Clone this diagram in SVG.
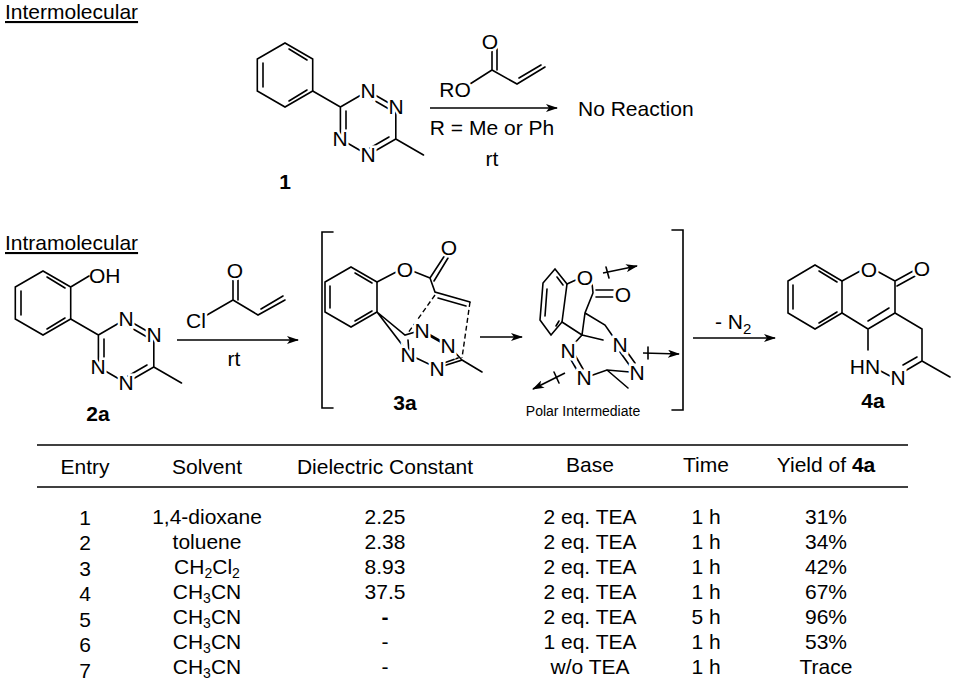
<svg xmlns="http://www.w3.org/2000/svg" width="955" height="684" viewBox="0 0 955 684">
<defs>
<style>
text{font-family:"Liberation Sans",Arial,sans-serif;fill:#000}
.b{stroke:#000;stroke-width:1.6;fill:none;stroke-linecap:round}
.d{stroke:#000;stroke-width:1.4;fill:none;stroke-dasharray:5,3}
.a{font-size:21px;text-anchor:middle;paint-order:stroke;stroke:#fff;stroke-width:5px}
.l{font-size:21px}
.bold{font-size:21px;font-weight:bold;text-anchor:middle}
.t{font-size:21px;text-anchor:middle}
.ar{stroke:#000;stroke-width:1.6;fill:none;marker-end:url(#ah)}
</style>
<marker id="ah" viewBox="0 0 12 8" refX="11" refY="4" markerWidth="12" markerHeight="8" markerUnits="userSpaceOnUse" orient="auto"><path d="M0,0 L12,4 L0,8 L3,4 Z" fill="#000"/></marker>
</defs>
<rect width="955" height="684" fill="#fff"/>

<g id="titles">
<text x="5" y="19" class="l" text-decoration="underline">Intermolecular</text>
<text x="5" y="250" class="l" text-decoration="underline">Intramolecular</text>
</g>

<g id="cmpd1" transform="translate(285,75)">
<path class="b" d="M0,-32 L27.7,-16 L27.7,16 L0,32 L-27.7,16 L-27.7,-16 Z M-22,-12 L-22,12 M4,-26 L22,-15 M4,26 L22,15"/>
<path class="b" d="M27.7,16 L55.4,32 M55.4,32 L83,16 L110.8,32 L110.8,64 L83,80 L55.4,64 Z M61,36 L61,60 M85,23 L104,34 M85,73 L104,62 M110.8,64 L138.5,80"/>
<text class="a" x="83" y="23">N</text><text class="a" x="111" y="39">N</text>
<text class="a" x="55" y="71">N</text><text class="a" x="83" y="87">N</text>
<text class="bold" x="0" y="114">1</text>
</g>

<g id="cond1">
<path class="b" d="M470,84 L492,70 L492,48 M497,70 L497,48 M492,70 L517,84 L545,67 M519,78 L541,65"/>
<text class="a" x="455" y="97">RO</text>
<text class="a" x="490" y="49">O</text>
<text class="l" x="492" y="135" text-anchor="middle">R = Me or Ph</text>
<text class="l" x="492" y="166" text-anchor="middle">rt</text>
<text class="l" x="578" y="116">No Reaction</text>
</g>

<g id="cmpd2a" transform="translate(43,303)">
<path class="b" d="M0,-32 L27.7,-16 L27.7,16 L0,32 L-27.7,16 L-27.7,-16 Z M-22,-12 L-22,12 M4,-26 L22,-15 M4,26 L22,15 M27.7,-16 L46,-27"/>
<text class="l" x="46" y="-20">OH</text>
<path class="b" d="M27.7,16 L55.4,32 M55.4,32 L83,16 L110.8,32 L110.8,64 L83,80 L55.4,64 Z M61,36 L61,60 M85,23 L104,34 M85,73 L104,62 M110.8,64 L138.5,80"/>
<text class="a" x="83" y="23">N</text><text class="a" x="111" y="39">N</text>
<text class="a" x="55" y="71">N</text><text class="a" x="83" y="87">N</text>
<text class="bold" x="55" y="118">2a</text>
</g>

<g id="reagent2">
<path class="b" d="M207,315 L233,300 L233,277 M238,300 L238,277 M233,300 L258,315 L285,300 M261,309 L283,296"/>
<text class="a" x="235" y="278">O</text>
<text class="a" x="196" y="328">Cl</text>
<text class="l" x="234" y="366" text-anchor="middle">rt</text>
</g>

<g id="bracket">
<path class="b" d="M333,232 L322,232 L322,408 L333,408 M672,230 L683,230 L683,410 L672,410" stroke-linecap="butt"/>
</g>

<g id="cmpd3a">
<path class="b" d="M351,267 L377,282 L377,312 L351,327 L325,312 L325,282 Z M330,286 L330,308 M355,273 L372,283 M355,321 L372,311"/>
<path class="b" d="M377,282 L400,270 M410,270 L430,278 L445,255 M434,281 L448,258 M430,278 L435,292 L470,302 M438,298 L466,306"/>
<text class="a" x="405" y="277">O</text>
<text class="a" x="449" y="255">O</text>
<path class="d" d="M435,295 L408,333 M470,302 L462,358"/>
<path class="b" d="M377,312 L405,335 L422,330 L448,345 L462,360 L437,368 L410,355 Z M408,340 L409,352 M428,335 L444,344 M441,364 L458,358 M462,360 L482,372"/>
<text class="a" x="422" y="338">N</text><text class="a" x="448" y="353">N</text>
<text class="a" x="408" y="362">N</text><text class="a" x="437" y="376">N</text>
<text class="bold" x="405" y="410">3a</text>
</g>

<g id="polar">
<path class="b" d="M555,269 L567,284 L562,322 L551,335 L540,320 L543,283 Z M547,289 L545,316 M557,277 L563,285 M556,326 L559,321"/>
<path class="b" d="M567,284 L578,279 M592,283 L593,293 M596,290 L613,290 M596,297 L613,297 M593,293 L585,313 L582,335 M585,313 L605,325 L614,338 M582,335 L562,322 M582,335 L603,340 M582,335 L572,346 M620,352 L630,366 M625,349 L635,363 M630,372 L607,370 L590,376 M578,372 L570,358 M583,369 L575,355 M607,370 L628,388"/>
<text class="a" x="585" y="285">O</text>
<text class="a" x="623" y="302">O</text>
<text class="a" x="568" y="358">N</text>
<text class="a" x="584" y="385">N</text>
<text class="a" x="620" y="352">N</text>
<text class="a" x="637" y="380">N</text>
<path class="ar" d="M603,273 L637,266"/><path class="b" d="M606,267 L609,278"/>
<path class="ar" d="M643,353 L679,354"/><path class="b" d="M648,347 L648,359"/>
<path class="ar" d="M565,373 L533,389"/><path class="b" d="M554,372 L559,383"/>
<text x="583" y="416" font-size="14" text-anchor="middle">Polar Intermediate</text>
</g>

<g id="cmpd4a">
<path class="b" d="M815,265 L842,281 L842,313 L815,329 L788,313 L788,281 Z M793,285 L793,309 M819,271 L837,282 M819,323 L837,312"/>
<path class="b" d="M842,281 L862,270 M875,270 L895,281 L895,313 L868,329 L842,313 M889,308 L868,321 M895,281 L915,270 M897,286 L917,275 M895,313 L922,329 L922,361 L905,371 M890,376 L875,368 M868,350 L868,329 M922,361 L950,377 M917,357 L903,365"/>
<text class="a" x="869" y="277">O</text>
<text class="a" x="922" y="276">O</text>
<text class="a" x="865" y="374">HN</text>
<text class="a" x="898" y="385">N</text>
<text class="bold" x="873" y="408">4a</text>
</g>

<g id="connectors">
<path class="ar" d="M430,108 L557,108"/>
<path class="ar" d="M177,340 L298,340"/>
<path class="ar" d="M480,337 L522,337"/>
<path class="ar" d="M693,338 L775,338"/>
<text class="l" x="715" y="329">- N<tspan font-size="15" dy="5">2</tspan></text>
</g>

<g id="table">
<path d="M37,445 L908,445" stroke="#000" stroke-width="1.6"/>
<path d="M37,487 L908,487" stroke="#000" stroke-width="1.6"/>
<g class="t">
<text x="85" y="474">Entry</text><text x="207" y="474">Solvent</text><text x="385" y="474">Dielectric Constant</text><text x="590" y="472">Base</text><text x="706" y="472">Time</text><text x="826" y="472">Yield of <tspan font-weight="bold">4a</tspan></text>
<text x="85" y="525">1</text><text x="207" y="524">1,4-dioxane</text><text x="385" y="524">2.25</text><text x="590" y="524">2 eq. TEA</text><text x="706" y="524">1 h</text><text x="826" y="524">31%</text>
<text x="85" y="550">2</text><text x="207" y="549">toluene</text><text x="385" y="549">2.38</text><text x="590" y="549">2 eq. TEA</text><text x="706" y="549">1 h</text><text x="826" y="549">34%</text>
<text x="85" y="576">3</text><text x="207" y="574">CH<tspan font-size="14" dy="4">2</tspan><tspan dy="-4">Cl</tspan><tspan font-size="14" dy="4">2</tspan></text><text x="385" y="574">8.93</text><text x="590" y="574">2 eq. TEA</text><text x="706" y="574">1 h</text><text x="826" y="574">42%</text>
<text x="85" y="601">4</text><text x="207" y="599">CH<tspan font-size="14" dy="4">3</tspan><tspan dy="-4">CN</tspan></text><text x="385" y="599">37.5</text><text x="590" y="599">2 eq. TEA</text><text x="706" y="599">1 h</text><text x="826" y="599">67%</text>
<text x="85" y="627">5</text><text x="207" y="624">CH<tspan font-size="14" dy="4">3</tspan><tspan dy="-4">CN</tspan></text><text x="385" y="624" font-weight="bold">-</text><text x="590" y="624">2 eq. TEA</text><text x="706" y="624">5 h</text><text x="826" y="624">96%</text>
<text x="85" y="652">6</text><text x="207" y="649">CH<tspan font-size="14" dy="4">3</tspan><tspan dy="-4">CN</tspan></text><text x="385" y="649">-</text><text x="590" y="649">1 eq. TEA</text><text x="706" y="649">1 h</text><text x="826" y="649">53%</text>
<text x="85" y="678">7</text><text x="207" y="674">CH<tspan font-size="14" dy="4">3</tspan><tspan dy="-4">CN</tspan></text><text x="385" y="674">-</text><text x="590" y="674">w/o  TEA</text><text x="706" y="674">1 h</text><text x="826" y="674">Trace</text>
</g>
</g>
</svg>
